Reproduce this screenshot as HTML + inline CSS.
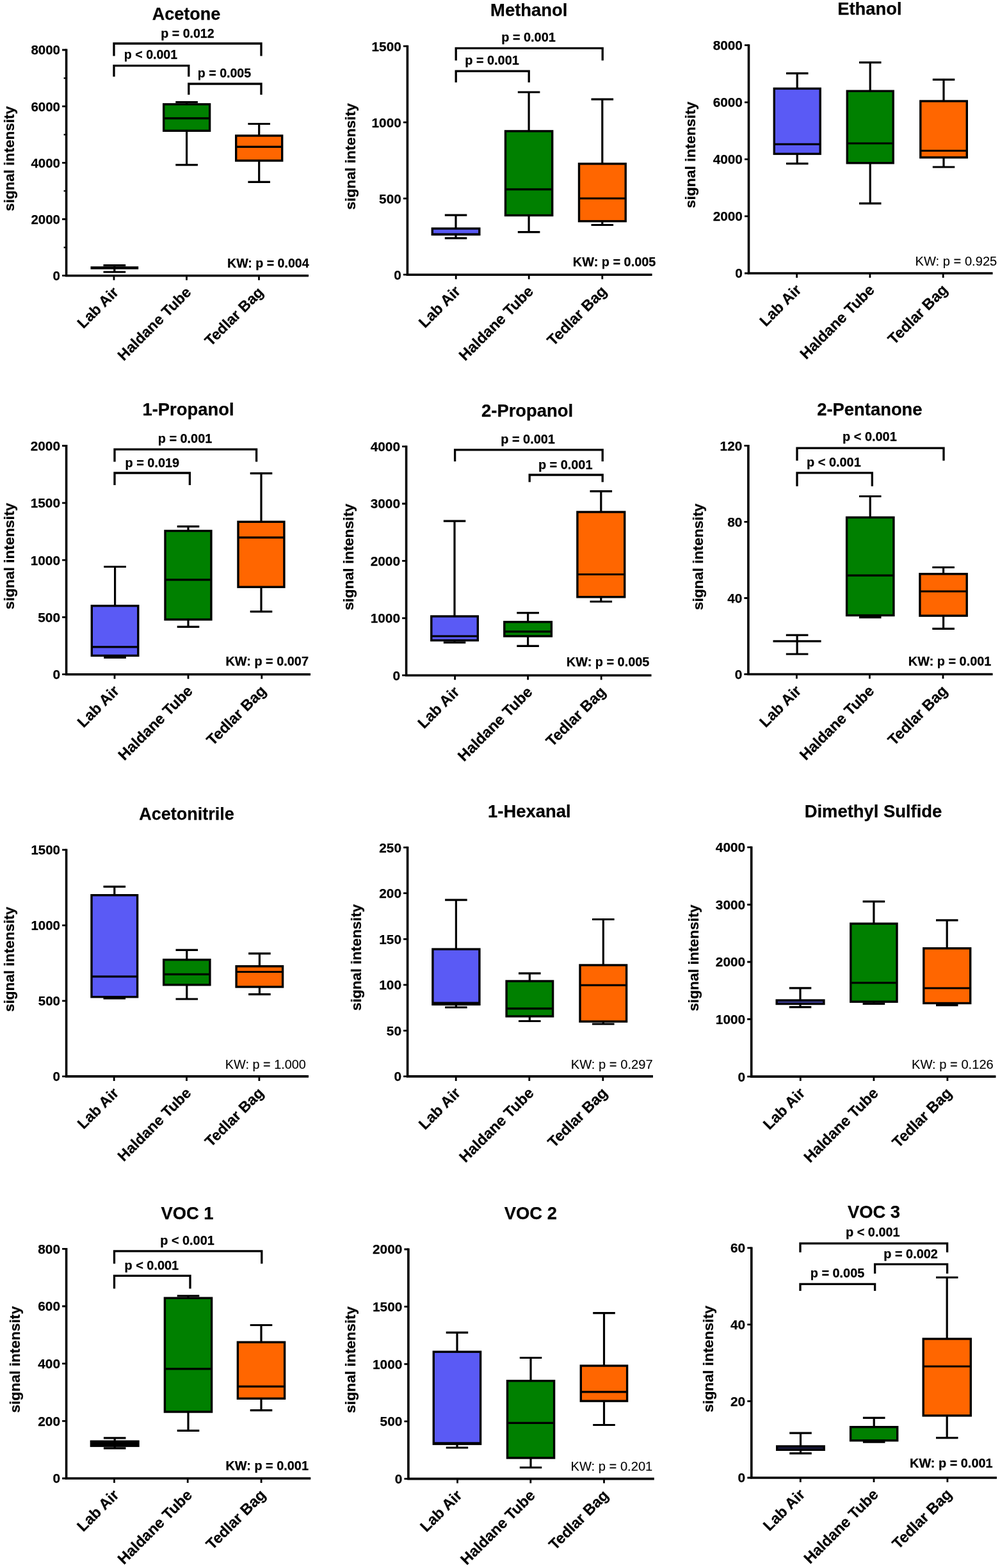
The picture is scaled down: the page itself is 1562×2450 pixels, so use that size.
<!DOCTYPE html>
<html lang="en">
<head>
<meta charset="utf-8">
<title>Box plots of VOC signal intensity</title>
<style>
html,body{margin:0;padding:0;background:#fff}
svg{display:block}
text{font-family:"Liberation Sans",Arial,Helvetica,sans-serif;fill:#000;stroke:#000;stroke-width:0.25px;stroke-linejoin:round}
.b{font-weight:bold}
.t{font-size:27.4px;font-weight:bold;text-anchor:middle}
.k{font-size:20.8px;font-weight:bold;text-anchor:end}
.p{font-size:19.9px;font-weight:bold;text-anchor:middle}
.x{font-size:23.6px;font-weight:bold;text-anchor:end}
.y{font-size:22.9px;font-weight:bold;text-anchor:middle}
.w{font-size:20.15px;text-anchor:end;stroke-width:0.1px}
.w.b{font-size:19.9px;stroke-width:0.25px}
.a{stroke:#000;stroke-width:3.6;fill:none;stroke-linecap:butt}
.m{stroke:#000;stroke-width:2.8;fill:none}
.h{stroke:#000;stroke-width:3.2;fill:none}
.r{stroke:#000;stroke-width:3.3;fill:none;stroke-linejoin:miter}
.bx{stroke:#000;stroke-width:3.4}
.s985 .t{font-size:26.99px}
.s985 .k{font-size:20.49px}
.s985 .p{font-size:19.6px}
.s985 .x{font-size:23.25px}
.s985 .y{font-size:22.56px}
.s985 .w{font-size:19.85px}
.s985 .w.b{font-size:19.6px}
</style>
</head>
<body>
<svg width="1562" height="2450" viewBox="0 0 1562 2450">
<rect width="1562" height="2450" fill="#fff"/>
<g class="s985">
<text class="t" x="291" y="30.7">Acetone</text>
<text class="y" transform="translate(22.2,248) rotate(-90)">signal intensity</text>
<path class="h" d="M178.8 414.6V418.5M161.5 414.6H196.2M178.8 418.5V425M161.5 425H196.2"/>
<path class="h" style="stroke-width:4.4" d="M141.5 418.5H216.2"/>
<path class="h" d="M291.6 159.6V162.9M274.3 159.6H308.9M291.6 204.3V257.6M274.3 257.6H308.9"/>
<rect class="bx" x="255.7" y="162.9" width="71.9" height="41.4" fill="#008000"/>
<path class="h" d="M255.7 184.8H327.6"/>
<path class="h" d="M404.7 193.5V212M387.4 193.5H422M404.7 251V284.4M387.4 284.4H422"/>
<rect class="bx" x="368.7" y="212" width="72" height="39" fill="#ff6600"/>
<path class="h" d="M368.7 229.3H440.7"/>
<path class="a" d="M103.6 76.6V430.7H482"/>
<path class="m" d="M97.1 78H103.6M97.1 166.2H103.6M97.1 254.3H103.6M97.1 342.5H103.6M97.1 430.7H103.6M178 430.7V437.7M291.5 430.7V437.7M404.5 430.7V437.7"/>
<path class="m" style="stroke-width:2.2" d="M99.6 122.1H103.6M99.6 210.3H103.6M99.6 298.4H103.6M99.6 386.6H103.6"/>
<text class="k" x="94" y="85.4">8000</text>
<text class="k" x="94" y="173.6">6000</text>
<text class="k" x="94" y="261.8">4000</text>
<text class="k" x="94" y="349.9">2000</text>
<text class="k" x="94" y="438.1">0</text>
<text class="x" transform="translate(186.4,458.1) rotate(-45)">Lab Air</text>
<text class="x" transform="translate(299.9,458.1) rotate(-45)">Haldane Tube</text>
<text class="x" transform="translate(412.9,458.1) rotate(-45)">Tedlar Bag</text>
<path class="r" d="M178 87.4V68H408V87.4"/>
<text class="p" x="293" y="58.8">p = 0.012</text>
<path class="r" d="M178 119.8V102.6H294.8V119.8"/>
<text class="p" x="235.5" y="92.3">p &lt; 0.001</text>
<path class="r" d="M294.8 148V131H408V148"/>
<text class="p" x="350.5" y="121.3">p = 0.005</text>
<text class="w b" x="482.6" y="418.1">KW: p = 0.004</text>
</g>
<g>
<text class="t" x="826.2" y="24.5">Methanol</text>
<text class="y" transform="translate(554.6,244.5) rotate(-90)">signal intensity</text>
<path class="h" d="M712 336.2V357.1M694.8 336.2H729.3M712 366.4V372.1M694.8 372.1H729.3"/>
<rect class="bx" x="675.3" y="357.1" width="73.5" height="9.3" fill="#5a5af5"/>
<path class="h" d="M675.3 366.2H748.8"/>
<path class="h" d="M826.1 144V204.9M808.8 144H843.4M826.1 336.5V362.6M808.8 362.6H843.4"/>
<rect class="bx" x="789.5" y="204.9" width="73.2" height="131.6" fill="#008000"/>
<path class="h" d="M789.5 295.8H862.7"/>
<path class="h" d="M940.8 155.2V255.9M923.5 155.2H958.1M940.8 345.6V351.5M923.5 351.5H958.1"/>
<rect class="bx" x="904.5" y="255.9" width="72.7" height="89.7" fill="#ff6600"/>
<path class="h" d="M904.5 310H977.2"/>
<path class="a" d="M636.4 70.8V429.2H1018.6"/>
<path class="m" d="M629.9 72.2H636.4M629.9 191.2H636.4M629.9 310.2H636.4M629.9 429.2H636.4M712.2 429.2V436.2M826.2 429.2V436.2M940.8 429.2V436.2"/>
<text class="k" x="626.8" y="79.6">1500</text>
<text class="k" x="626.8" y="198.6">1000</text>
<text class="k" x="626.8" y="317.6">500</text>
<text class="k" x="626.8" y="436.6">0</text>
<text class="x" transform="translate(720.6,456.6) rotate(-45)">Lab Air</text>
<text class="x" transform="translate(834.6,456.6) rotate(-45)">Haldane Tube</text>
<text class="x" transform="translate(949.2,456.6) rotate(-45)">Tedlar Bag</text>
<path class="r" d="M712.2 94.5V75.4H941.2V94.5"/>
<text class="p" x="825.5" y="65.1">p = 0.001</text>
<path class="r" d="M712.2 128.7V111.1H826.2V128.7"/>
<text class="p" x="768.5" y="101">p = 0.001</text>
<text class="w b" x="1024.4" y="416.3">KW: p = 0.005</text>
</g>
<g>
<text class="t" x="1358.4" y="22.6">Ethanol</text>
<text class="y" transform="translate(1086,242) rotate(-90)">signal intensity</text>
<path class="h" d="M1245.2 114.7V138.4M1228 114.7H1262.5M1245.2 240.4V255.7M1228 255.7H1262.5"/>
<rect class="bx" x="1209.3" y="138.4" width="71.9" height="102" fill="#5a5af5"/>
<path class="h" d="M1209.3 225.4H1281.2"/>
<path class="h" d="M1359.2 97.7V142.3M1342 97.7H1376.5M1359.2 254.7V317.9M1342 317.9H1376.5"/>
<rect class="bx" x="1323.3" y="142.3" width="71.9" height="112.4" fill="#008000"/>
<path class="h" d="M1323.3 224H1395.2"/>
<path class="h" d="M1474 124.4V158M1456.8 124.4H1491.3M1474 246V261M1456.8 261H1491.3"/>
<rect class="bx" x="1437.8" y="158" width="72.5" height="88" fill="#ff6600"/>
<path class="h" d="M1437.8 235.5H1510.3"/>
<path class="a" d="M1169.5 69.3V427H1550.6"/>
<path class="m" d="M1163 70.7H1169.5M1163 159.8H1169.5M1163 248.9H1169.5M1163 337.9H1169.5M1163 427H1169.5M1244.6 427V434M1358.9 427V434M1473.2 427V434"/>
<text class="k" x="1159.9" y="78.1">8000</text>
<text class="k" x="1159.9" y="167.2">6000</text>
<text class="k" x="1159.9" y="256.2">4000</text>
<text class="k" x="1159.9" y="345.3">2000</text>
<text class="k" x="1159.9" y="434.4">0</text>
<text class="x" transform="translate(1253,454.4) rotate(-45)">Lab Air</text>
<text class="x" transform="translate(1367.3,454.4) rotate(-45)">Haldane Tube</text>
<text class="x" transform="translate(1481.6,454.4) rotate(-45)">Tedlar Bag</text>
<text class="w" x="1557.3" y="415.2">KW: p = 0.925</text>
</g>
<g>
<text class="t" x="294" y="649.1">1-Propanol</text>
<text class="y" transform="translate(21.8,869) rotate(-90)">signal intensity</text>
<path class="h" d="M179.6 885.5V946.6M162.2 885.5H196.9M179.6 1024.4V1027.3M162.2 1027.3H196.9"/>
<rect class="bx" x="143.3" y="946.6" width="72.5" height="77.8" fill="#5a5af5"/>
<path class="h" d="M143.3 1010.9H215.8"/>
<path class="h" d="M294 822.7V829.5M276.7 822.7H311.3M294 968V979.4M276.7 979.4H311.3"/>
<rect class="bx" x="258" y="829.5" width="71.9" height="138.5" fill="#008000"/>
<path class="h" d="M258 905.8H329.9"/>
<path class="h" d="M408 739.6V815.3M390.7 739.6H425.3M408 917.2V955.6M390.7 955.6H425.3"/>
<rect class="bx" x="372" y="815.3" width="71.9" height="101.9" fill="#ff6600"/>
<path class="h" d="M372 839.8H443.9"/>
<path class="a" d="M103.6 695.1V1053.7H485"/>
<path class="m" d="M97.1 696.5H103.6M97.1 785.8H103.6M97.1 875.1H103.6M97.1 964.4H103.6M97.1 1053.7H103.6M179 1053.7V1060.7M294 1053.7V1060.7M408.8 1053.7V1060.7"/>
<text class="k" x="94" y="703.9">2000</text>
<text class="k" x="94" y="793.2">1500</text>
<text class="k" x="94" y="882.5">1000</text>
<text class="k" x="94" y="971.8">500</text>
<text class="k" x="94" y="1061.1">0</text>
<text class="x" transform="translate(187.4,1081.1) rotate(-45)">Lab Air</text>
<text class="x" transform="translate(302.4,1081.1) rotate(-45)">Haldane Tube</text>
<text class="x" transform="translate(417.2,1081.1) rotate(-45)">Tedlar Bag</text>
<path class="r" d="M179 721.4V702.2H400.6V721.4"/>
<text class="p" x="289" y="692.1">p = 0.001</text>
<path class="r" d="M179 757.9V739H296.4V757.9"/>
<text class="p" x="237.8" y="729.6">p = 0.019</text>
<text class="w b" x="482" y="1040.3">KW: p = 0.007</text>
</g>
<g>
<text class="t" x="823.6" y="650.7">2-Propanol</text>
<text class="y" transform="translate(551.6,870.3) rotate(-90)">signal intensity</text>
<path class="h" d="M710 814.2V963M692.8 814.2H727.3M710 1000.6V1003.8M692.8 1003.8H727.3"/>
<rect class="bx" x="673.8" y="963" width="72.5" height="37.6" fill="#5a5af5"/>
<path class="h" d="M673.8 994H746.3"/>
<path class="h" d="M824.6 957.6V971.8M807.3 957.6H841.9M824.6 994V1009.3M807.3 1009.3H841.9"/>
<rect class="bx" x="787.8" y="971.8" width="73.6" height="22.2" fill="#008000"/>
<path class="h" d="M787.8 986.8H861.4"/>
<path class="h" d="M938.8 767.7V800M921.5 767.7H956.1M938.8 932.8V940M921.5 940H956.1"/>
<rect class="bx" x="901.9" y="800" width="73.8" height="132.8" fill="#ff6600"/>
<path class="h" d="M901.9 897.5H975.7"/>
<path class="a" d="M634.6 696.2V1055.2H1017.5"/>
<path class="m" d="M628.1 697.6H634.6M628.1 787H634.6M628.1 876.4H634.6M628.1 965.8H634.6M628.1 1055.2H634.6M710.6 1055.2V1062.2M824.6 1055.2V1062.2M939.2 1055.2V1062.2"/>
<text class="k" x="625" y="705">4000</text>
<text class="k" x="625" y="794.4">3000</text>
<text class="k" x="625" y="883.8">2000</text>
<text class="k" x="625" y="973.2">1000</text>
<text class="k" x="625" y="1062.6">0</text>
<text class="x" transform="translate(719,1082.6) rotate(-45)">Lab Air</text>
<text class="x" transform="translate(833,1082.6) rotate(-45)">Haldane Tube</text>
<text class="x" transform="translate(947.6,1082.6) rotate(-45)">Tedlar Bag</text>
<path class="r" d="M710.6 720.9V702.9H941.2V720.9"/>
<text class="p" x="824.6" y="693">p = 0.001</text>
<path class="r" d="M827.2 753.2V742H941.2V753.2"/>
<text class="p" x="883.2" y="733.1">p = 0.001</text>
<text class="w b" x="1014.4" y="1041.3">KW: p = 0.005</text>
</g>
<g>
<text class="t" x="1358.4" y="649.1">2-Pentanone</text>
<text class="y" transform="translate(1098,870) rotate(-90)">signal intensity</text>
<path class="h" d="M1245.1 992.4V1001.9M1227.8 992.4H1262.4M1245.1 1001.9V1022M1227.8 1022H1262.4"/>
<path class="h" style="stroke-width:3.1" d="M1207.5 1001.9H1282.6"/>
<path class="h" d="M1359.2 775.5V808.5M1342 775.5H1376.5M1359.2 961.5V964.7M1342 964.7H1376.5"/>
<rect class="bx" x="1322.6" y="808.5" width="73.3" height="153" fill="#008000"/>
<path class="h" d="M1322.6 899.1H1395.9"/>
<path class="h" d="M1473.6 886.5V896.8M1456.3 886.5H1490.9M1473.6 962.1V982.3M1456.3 982.3H1490.9"/>
<rect class="bx" x="1436.9" y="896.8" width="73.3" height="65.3" fill="#ff6600"/>
<path class="h" d="M1436.9 924H1510.2"/>
<path class="a" d="M1168.9 695V1053.5H1550.6"/>
<path class="m" d="M1162.4 696.4H1168.9M1162.4 815.4H1168.9M1162.4 934.5H1168.9M1162.4 1053.5H1168.9M1244.4 1053.5V1060.5M1358.4 1053.5V1060.5M1473 1053.5V1060.5"/>
<text class="k" x="1159.3" y="703.8">120</text>
<text class="k" x="1159.3" y="822.8">80</text>
<text class="k" x="1159.3" y="941.9">40</text>
<text class="k" x="1159.3" y="1060.9">0</text>
<text class="x" transform="translate(1252.8,1080.9) rotate(-45)">Lab Air</text>
<text class="x" transform="translate(1366.8,1080.9) rotate(-45)">Haldane Tube</text>
<text class="x" transform="translate(1481.4,1080.9) rotate(-45)">Tedlar Bag</text>
<path class="r" d="M1245 719.8V700.1H1474V719.8"/>
<text class="p" x="1358.4" y="689.2">p &lt; 0.001</text>
<path class="r" d="M1245 759.8V738.8H1362.3V759.8"/>
<text class="p" x="1302.4" y="728.9">p &lt; 0.001</text>
<text class="w b" x="1548.4" y="1040.3">KW: p = 0.001</text>
</g>
<g class="s985">
<text class="t" x="291.5" y="1281.1">Acetonitrile</text>
<text class="y" transform="translate(21.7,1499) rotate(-90)">signal intensity</text>
<path class="h" d="M178.8 1385.4V1398.7M161.5 1385.4H196.1M178.8 1557.7V1560M161.5 1560H196.1"/>
<rect class="bx" x="143" y="1398.7" width="71.6" height="159" fill="#5a5af5"/>
<path class="h" d="M143 1525.8H214.6"/>
<path class="h" d="M291.8 1484.4V1499.6M274.5 1484.4H309.1M291.8 1538.8V1561M274.5 1561H309.1"/>
<rect class="bx" x="255.7" y="1499.6" width="72.2" height="39.2" fill="#008000"/>
<path class="h" d="M255.7 1522.4H327.9"/>
<path class="h" d="M405.4 1489.8V1509.8M388.1 1489.8H422.7M405.4 1542V1553.7M388.1 1553.7H422.7"/>
<rect class="bx" x="369.1" y="1509.8" width="72.5" height="32.2" fill="#ff6600"/>
<path class="h" d="M369.1 1518.5H441.6"/>
<path class="a" d="M103.6 1326.5V1681.9H482"/>
<path class="m" d="M97.1 1327.9H103.6M97.1 1445.9H103.6M97.1 1563.9H103.6M97.1 1681.9H103.6M178.2 1681.9V1688.9M291.5 1681.9V1688.9M404.9 1681.9V1688.9"/>
<text class="k" x="94" y="1335.3">1500</text>
<text class="k" x="94" y="1453.3">1000</text>
<text class="k" x="94" y="1571.3">500</text>
<text class="k" x="94" y="1689.3">0</text>
<text class="x" transform="translate(186.6,1709.3) rotate(-45)">Lab Air</text>
<text class="x" transform="translate(299.9,1709.3) rotate(-45)">Haldane Tube</text>
<text class="x" transform="translate(413.3,1709.3) rotate(-45)">Tedlar Bag</text>
<text class="w" x="477.8" y="1669.6">KW: p = 1.000</text>
</g>
<g>
<text class="t" x="826.8" y="1277.2">1-Hexanal</text>
<text class="y" transform="translate(564.2,1496) rotate(-90)">signal intensity</text>
<path class="h" d="M712.4 1406.1V1483.1M695.1 1406.1H729.7M712.4 1569.4V1574M695.1 1574H729.7"/>
<rect class="bx" x="675.9" y="1483.1" width="73" height="86.3" fill="#5a5af5"/>
<path class="h" d="M675.9 1567H748.9"/>
<path class="h" d="M827.3 1520.9V1533M810 1520.9H844.6M827.3 1588V1595.5M810 1595.5H844.6"/>
<rect class="bx" x="791.1" y="1533" width="72.5" height="55" fill="#008000"/>
<path class="h" d="M791.1 1575.8H863.6"/>
<path class="h" d="M942.3 1436.5V1508M925 1436.5H959.6M942.3 1596.1V1600M925 1600H959.6"/>
<rect class="bx" x="906" y="1508" width="72.6" height="88.1" fill="#ff6600"/>
<path class="h" d="M906 1539.4H978.6"/>
<path class="a" d="M636.6 1322.8V1681.9H1020"/>
<path class="m" d="M630.1 1324.2H636.6M630.1 1395.7H636.6M630.1 1467.3H636.6M630.1 1538.8H636.6M630.1 1610.4H636.6M630.1 1681.9H636.6M712.2 1681.9V1688.9M826.8 1681.9V1688.9M941.8 1681.9V1688.9"/>
<text class="k" x="627" y="1331.6">250</text>
<text class="k" x="627" y="1403.1">200</text>
<text class="k" x="627" y="1474.7">150</text>
<text class="k" x="627" y="1546.2">100</text>
<text class="k" x="627" y="1617.8">50</text>
<text class="k" x="627" y="1689.3">0</text>
<text class="x" transform="translate(720.6,1709.3) rotate(-45)">Lab Air</text>
<text class="x" transform="translate(835.2,1709.3) rotate(-45)">Haldane Tube</text>
<text class="x" transform="translate(950.2,1709.3) rotate(-45)">Tedlar Bag</text>
<text class="w" x="1019.6" y="1669.8">KW: p = 0.297</text>
</g>
<g>
<text class="t" x="1364" y="1277.2">Dimethyl Sulfide</text>
<text class="y" transform="translate(1090.6,1496.8) rotate(-90)">signal intensity</text>
<path class="h" d="M1250 1543.8V1563M1232.8 1543.8H1267.3M1250 1568.5V1573.7M1232.8 1573.7H1267.3"/>
<rect class="bx" x="1213.2" y="1563" width="73.7" height="5.5" fill="#4040a0"/>
<path class="h" d="M1364.9 1408.6V1443.2M1347.6 1408.6H1382.2M1364.9 1565.2V1568.4M1347.6 1568.4H1382.2"/>
<rect class="bx" x="1328.8" y="1443.2" width="72.2" height="122" fill="#008000"/>
<path class="h" d="M1328.8 1535.7H1401"/>
<path class="h" d="M1479.2 1437.8V1481.8M1462 1437.8H1496.5M1479.2 1567.5V1570.7M1462 1570.7H1496.5"/>
<rect class="bx" x="1442.8" y="1481.8" width="72.9" height="85.7" fill="#ff6600"/>
<path class="h" d="M1442.8 1544H1515.7"/>
<path class="a" d="M1173.7 1322.5V1682.1H1555.5"/>
<path class="m" d="M1167.2 1323.9H1173.7M1167.2 1413.5H1173.7M1167.2 1503H1173.7M1167.2 1592.5H1173.7M1167.2 1682.1H1173.7M1250.3 1682.1V1689.1M1364.9 1682.1V1689.1M1479.9 1682.1V1689.1"/>
<text class="k" x="1164.1" y="1331.3">4000</text>
<text class="k" x="1164.1" y="1420.9">3000</text>
<text class="k" x="1164.1" y="1510.4">2000</text>
<text class="k" x="1164.1" y="1600">1000</text>
<text class="k" x="1164.1" y="1689.5">0</text>
<text class="x" transform="translate(1258.7,1709.5) rotate(-45)">Lab Air</text>
<text class="x" transform="translate(1373.3,1709.5) rotate(-45)">Haldane Tube</text>
<text class="x" transform="translate(1488.3,1709.5) rotate(-45)">Tedlar Bag</text>
<text class="w" x="1551.8" y="1669.6">KW: p = 0.126</text>
</g>
<g>
<text class="t" x="292.5" y="1905.4">VOC 1</text>
<text class="y" transform="translate(31.2,2124.2) rotate(-90)">signal intensity</text>
<path class="h" d="M179.2 2246.8V2252.2M161.9 2246.8H196.5M179.2 2259.2V2262.8M161.9 2262.8H196.5"/>
<rect class="bx" x="142.4" y="2252.2" width="73.6" height="7" fill="#000"/>
<path class="h" d="M142.4 2255.7H216"/>
<path class="h" d="M294 2024.9V2028.2M276.7 2024.9H311.3M294 2206V2235.3M276.7 2235.3H311.3"/>
<rect class="bx" x="257.4" y="2028.2" width="73.2" height="177.8" fill="#008000"/>
<path class="h" d="M257.4 2138.9H330.6"/>
<path class="h" d="M408 2070.5V2097.2M390.7 2070.5H425.3M408 2185.2V2203.7M390.7 2203.7H425.3"/>
<rect class="bx" x="371.4" y="2097.2" width="73.2" height="88" fill="#ff6600"/>
<path class="h" d="M371.4 2166.3H444.6"/>
<path class="a" d="M103.6 1949.9V2310H485.3"/>
<path class="m" d="M97.1 1951.3H103.6M97.1 2041H103.6M97.1 2130.7H103.6M97.1 2220.3H103.6M97.1 2310H103.6M178.5 2310V2317M293.2 2310V2317M408.1 2310V2317"/>
<text class="k" x="94" y="1958.7">800</text>
<text class="k" x="94" y="2048.4">600</text>
<text class="k" x="94" y="2138.1">400</text>
<text class="k" x="94" y="2227.7">200</text>
<text class="k" x="94" y="2317.4">0</text>
<text class="x" transform="translate(186.9,2337.4) rotate(-45)">Lab Air</text>
<text class="x" transform="translate(301.6,2337.4) rotate(-45)">Haldane Tube</text>
<text class="x" transform="translate(416.5,2337.4) rotate(-45)">Tedlar Bag</text>
<path class="r" d="M178.5 1974.4V1954.9H408.8V1974.4"/>
<text class="p" x="292.5" y="1945.4">p &lt; 0.001</text>
<path class="r" d="M178.5 2013.5V1993.3H297V2013.5"/>
<text class="p" x="236.8" y="1983.6">p &lt; 0.001</text>
<text class="w b" x="482" y="2296.6">KW: p = 0.001</text>
</g>
<g>
<text class="t" x="828.8" y="1905.4">VOC 2</text>
<text class="y" transform="translate(555,2124.6) rotate(-90)">signal intensity</text>
<path class="h" d="M714 2082.2V2112.2M696.7 2082.2H731.2M714 2256.2V2262M696.7 2262H731.2"/>
<rect class="bx" x="677.3" y="2112.2" width="73.3" height="144" fill="#5a5af5"/>
<path class="h" d="M677.3 2254.8H750.6"/>
<path class="h" d="M829 2121.5V2157.6M811.8 2121.5H846.3M829 2278V2293M811.8 2293H846.3"/>
<rect class="bx" x="792.5" y="2157.6" width="73.1" height="120.4" fill="#008000"/>
<path class="h" d="M792.5 2223.3H865.6"/>
<path class="h" d="M943.5 2051.6V2134M926.2 2051.6H960.8M943.5 2189.1V2226.5M926.2 2226.5H960.8"/>
<rect class="bx" x="907.3" y="2134" width="72.3" height="55.1" fill="#ff6600"/>
<path class="h" d="M907.3 2174.8H979.6"/>
<path class="a" d="M637.9 1950.6V2310.6H1021.8"/>
<path class="m" d="M631.4 1952H637.9M631.4 2041.7H637.9M631.4 2131.3H637.9M631.4 2220.9H637.9M631.4 2310.6H637.9M714.5 2310.6V2317.6M828.8 2310.6V2317.6M943.5 2310.6V2317.6"/>
<text class="k" x="628.3" y="1959.4">2000</text>
<text class="k" x="628.3" y="2049.1">1500</text>
<text class="k" x="628.3" y="2138.7">1000</text>
<text class="k" x="628.3" y="2228.3">500</text>
<text class="k" x="628.3" y="2318">0</text>
<text class="x" transform="translate(722.9,2338) rotate(-45)">Lab Air</text>
<text class="x" transform="translate(837.2,2338) rotate(-45)">Haldane Tube</text>
<text class="x" transform="translate(951.9,2338) rotate(-45)">Tedlar Bag</text>
<text class="w" x="1019.3" y="2297.8">KW: p = 0.201</text>
</g>
<g>
<text class="t" x="1365" y="1903.1">VOC 3</text>
<text class="y" transform="translate(1114.2,2123.4) rotate(-90)">signal intensity</text>
<path class="h" d="M1250.5 2239.1V2259.9M1233.2 2239.1H1267.8M1250.5 2265.3V2270.8M1233.2 2270.8H1267.8"/>
<rect class="bx" x="1213.7" y="2259.9" width="73.5" height="5.4" fill="#1c1c48"/>
<path class="h" d="M1365.2 2215.3V2229.7M1347.9 2215.3H1382.5M1365.2 2250.8V2253.2M1347.9 2253.2H1382.5"/>
<rect class="bx" x="1328.6" y="2229.7" width="73.1" height="21.1" fill="#008000"/>
<path class="h" d="M1479.2 1996V2092M1462 1996H1496.5M1479.2 2211.9V2246.7M1462 2246.7H1496.5"/>
<rect class="bx" x="1442.2" y="2092" width="74.1" height="119.9" fill="#ff6600"/>
<path class="h" d="M1442.2 2135H1516.3"/>
<path class="a" d="M1173.8 1948.5V2309H1557"/>
<path class="m" d="M1167.3 1949.9H1173.8M1167.3 2069.6H1173.8M1167.3 2189.3H1173.8M1167.3 2309H1173.8M1250.3 2309V2316M1365 2309V2316M1479.9 2309V2316"/>
<text class="k" x="1164.2" y="1957.3">60</text>
<text class="k" x="1164.2" y="2077">40</text>
<text class="k" x="1164.2" y="2196.7">20</text>
<text class="k" x="1164.2" y="2316.4">0</text>
<text class="x" transform="translate(1258.7,2336.4) rotate(-45)">Lab Air</text>
<text class="x" transform="translate(1373.4,2336.4) rotate(-45)">Haldane Tube</text>
<text class="x" transform="translate(1488.3,2336.4) rotate(-45)">Tedlar Bag</text>
<path class="r" d="M1250 1956.8V1942.8H1479.6V1956.8"/>
<text class="p" x="1363.3" y="1932.4">p &lt; 0.001</text>
<path class="r" d="M1366.6 1990V1975.4H1479.6V1990"/>
<text class="p" x="1422.6" y="1965.6">p = 0.002</text>
<path class="r" d="M1250 2017V2006.4H1366.6V2017"/>
<text class="p" x="1308" y="1995.6">p = 0.005</text>
<text class="w b" x="1550.6" y="2293.3">KW: p = 0.001</text>
</g>
</svg>
</body>
</html>
